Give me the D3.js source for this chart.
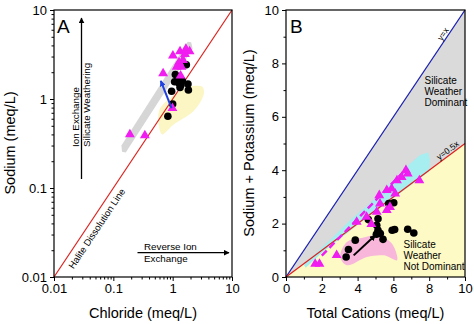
<!DOCTYPE html>
<html>
<head>
<meta charset="utf-8">
<script src="https://cdn.jsdelivr.net/npm/d3@7"></script>
<style>
  body { margin: 0; background: #fff; }
  text { font-family: "Liberation Sans", Arial, sans-serif; }
</style>
</head>
<body>
<div id="chart"></div>
<script>
// ---- Panel A data (log-log, meq/L) ----
const aCircleCl = [0.83, 1.0, 0.96, 1.11, 1.08, 1.28, 1.45, 1.38, 1.70, 1.81, 1.84, 1.33, 1.2];
const aCircleNa = [0.64, 0.88, 1.22, 1.88, 1.56, 1.5, 1.6, 1.44, 2.43, 1.47, 1.26, 1.35, 1.62];
const aTriCl = [0.19, 0.34, 0.69, 0.99, 1.01, 1.33, 1.67, 1.93, 1.49, 1.28, 1.41, 1.17, 1.36, 1.61];
const aTriNa = [0.40, 0.39, 1.94, 0.79, 3.07, 3.43, 3.65, 3.43, 2.74, 2.58, 2.3, 2.3, 1.83, 3.2];
const aGrayBand = [[0.137, 0.30], [1.79, 4.4], [2.05, 4.35], [2.17, 3.67], [0.162, 0.25], [0.14, 0.255]];
const aYellowBlob = [[0.61, 0.44], [0.59, 0.74], [0.81, 0.96], [1.76, 1.35], [3.15, 1.37], [3.35, 1.14],
                     [2.28, 0.74], [1.05, 0.52], [0.67, 0.40]];
const aArrow = [[0.96, 0.79], [0.63, 1.6]];
const aTicks = [0.01, 0.1, 1, 10];
const aTickLabels = ["0.01", "0.1", "1", "10"];

// ---- Panel B data (linear, meq/L) ----
const bCircleTz = [3.36, 3.49, 3.87, 4.6, 5.14, 5.07, 5.14, 5.27, 5.05, 5.42, 5.74, 6.02, 5.93, 6.07, 6.8, 7.14];
const bCircleNaK = [0.75, 1.03, 1.38, 2.15, 2.18, 1.94, 1.75, 1.63, 1.6, 1.41, 2.75, 2.78, 1.75, 1.78, 1.79, 1.65];
const bTriTz = [1.63, 1.87, 2.83, 3.95, 4.5, 5.07, 5.63, 5.25, 5.81, 5.21, 5.63, 5.9, 6.1, 6.2, 6.7, 6.46, 6.8, 7.45, 4.77];
const bTriNaK = [0.49, 0.49, 0.82, 2.06, 2.25, 2.44, 2.5, 2.75, 2.62, 3.06, 3.25, 3.31, 3.12, 3.62, 4.0, 3.74, 3.87, 3.62, 1.98];
const bCyanBand = [[1.0, 0.45], [1.15, 0.57], [2.46, 1.39], [3.58, 2.13], [4.69, 2.76], [5.81, 3.51], [6.74, 4.13],
                   [7.49, 4.57], [7.95, 4.66], [8.04, 4.38], [8.0, 3.95], [6.0, 2.95], [4.0, 1.95], [2.0, 0.9], [1.1, 0.35]];
const bPinkBlob = [[3.03, 0.75], [3.4, 1.31], [4.34, 1.48], [5.08, 1.56], [5.83, 1.31], [6.11, 1.0], [6.2, 0.63],
                   [5.46, 0.81], [4.52, 0.75], [3.4, 0.44]];
const bDashLine = [[2.0, 0.8], [6.65, 4.0]];
const bArrow = [[3.78, 0.81], [4.99, 1.56]];
const bTicks = [0, 2, 4, 6, 8, 10];
const bMinorTicks = [1, 3, 5, 7, 9];

const W = 474, H = 324;
const magenta = "#f01cf0";

const svg = d3.select("#chart").append("svg")
  .attr("width", W)
  .attr("height", H);

const defs = svg.append("defs");
function arrowMarker(id, color) {
  defs.append("marker")
    .attr("id", id)
    .attr("viewBox", "0 0 10 10")
    .attr("refX", 9).attr("refY", 5)
    .attr("markerWidth", 6).attr("markerHeight", 6)
    .attr("markerUnits", "userSpaceOnUse")
    .attr("orient", "auto")
    .append("path")
    .attr("d", "M0,0L10,5L0,10Z")
    .attr("fill", color);
}
arrowMarker("ahBlack", "#000");
arrowMarker("ahBlue", "#1f3fe0");

const tri = d3.symbol().type(d3.symbolTriangle).size(42);

function frame(x0, x1, y0, y1) {
  svg.append("rect")
    .attr("x", x0).attr("y", y1)
    .attr("width", x1 - x0).attr("height", y0 - y1)
    .attr("fill", "none")
    .attr("stroke", "#000")
    .attr("stroke-width", 1.2);
}

// ================= Panel A =================
const xA = d3.scaleLog().domain([0.01, 10]).range([54, 232]);
const yA = d3.scaleLog().domain([0.01, 10]).range([277, 10]);
const lineA = d3.line().x(d => xA(d[0])).y(d => yA(d[1]));

svg.append("path").datum(aYellowBlob)
  .attr("d", d3.line().x(d => xA(d[0])).y(d => yA(d[1])).curve(d3.curveCatmullRomClosed))
  .attr("fill", "#fbf6c4");
svg.append("path").datum(aGrayBand)
  .attr("d", d => lineA(d) + "Z")
  .attr("fill", "#d6d6d6");

// halite dissolution line 1:1
svg.append("line")
  .attr("x1", xA(0.01)).attr("y1", yA(0.01))
  .attr("x2", xA(10)).attr("y2", yA(10))
  .attr("stroke", "#e0201c").attr("stroke-width", 1.2);

const angA = Math.atan2(yA(10) - yA(0.01), xA(10) - xA(0.01)) * 180 / Math.PI;
svg.append("text")
  .attr("transform", `translate(${xA(0.0397)},${yA(0.0397)}) rotate(${angA})`)
  .attr("y", 12)
  .attr("text-anchor", "middle")
  .style("font-size", "9.5px")
  .text("Halite Dissolution Line");

// points
svg.append("g").selectAll("circle")
  .data(aCircleCl.map((c, i) => [c, aCircleNa[i]]))
  .join("circle")
  .attr("cx", d => xA(d[0])).attr("cy", d => yA(d[1]))
  .attr("r", 3.8).attr("fill", "#000");
svg.append("g").selectAll("path")
  .data(aTriCl.map((c, i) => [c, aTriNa[i]]))
  .join("path")
  .attr("transform", d => `translate(${xA(d[0])},${yA(d[1])})`)
  .attr("d", tri).attr("fill", magenta);

svg.append("line")
  .attr("x1", xA(aArrow[0][0])).attr("y1", yA(aArrow[0][1]))
  .attr("x2", xA(aArrow[1][0])).attr("y2", yA(aArrow[1][1]))
  .attr("stroke", "#1f3fe0").attr("stroke-width", 2)
  .attr("marker-end", "url(#ahBlue)");

// axes A
const minorLog = [];
[0.01, 0.1, 1].forEach(p => { for (let k = 2; k <= 9; k++) minorLog.push(p * k); });

svg.append("g").attr("transform", "translate(0,277)")
  .call(d3.axisBottom(xA).tickValues(aTicks).tickFormat((d, i) => aTickLabels[i]).tickSize(4).tickPadding(3))
  .call(g => g.select(".domain").remove());
svg.append("g").attr("transform", "translate(0,277)")
  .call(d3.axisBottom(xA).tickValues(minorLog).tickFormat("").tickSize(2.5))
  .call(g => g.select(".domain").remove());
svg.append("g").attr("transform", "translate(54,0)")
  .call(d3.axisLeft(yA).tickValues(aTicks).tickFormat((d, i) => aTickLabels[i]).tickSize(4).tickPadding(3))
  .call(g => g.select(".domain").remove());
svg.append("g").attr("transform", "translate(54,0)")
  .call(d3.axisLeft(yA).tickValues(minorLog).tickFormat("").tickSize(2.5))
  .call(g => g.select(".domain").remove());
frame(54, 232, 277, 10);

// annotations A
svg.append("text").attr("x", 57).attr("y", 33).style("font-size", "19px").text("A");

svg.append("line")
  .attr("x1", 81.5).attr("y1", 179).attr("x2", 81.5).attr("y2", 18)
  .attr("stroke", "#000").attr("stroke-width", 1.3)
  .attr("marker-end", "url(#ahBlack)");
svg.append("text")
  .attr("transform", "translate(78.5,147) rotate(-90)")
  .style("font-size", "9.8px").text("Ion Exchange");
svg.append("text")
  .attr("transform", "translate(90,147) rotate(-90)")
  .style("font-size", "9.8px").text("Silicate Weathering");

svg.append("line")
  .attr("x1", 137.5).attr("y1", 252.7).attr("x2", 229).attr("y2", 252.7)
  .attr("stroke", "#000").attr("stroke-width", 1.3)
  .attr("marker-end", "url(#ahBlack)");
svg.append("text").attr("x", 144).attr("y", 250).style("font-size", "9.8px").text("Reverse Ion");
svg.append("text").attr("x", 144).attr("y", 262).style("font-size", "9.8px").text("Exchange");

svg.append("text")
  .attr("x", 143).attr("y", 318)
  .attr("text-anchor", "middle")
  .style("font-size", "14.5px")
  .text("Chloride (meq/L)");
svg.append("text")
  .attr("transform", "translate(15,143) rotate(-90)")
  .attr("text-anchor", "middle")
  .style("font-size", "14.5px")
  .text("Sodium (meq/L)");

// ================= Panel B =================
const xB = d3.scaleLinear().domain([0, 10]).range([286, 465]);
const yB = d3.scaleLinear().domain([0, 10]).range([277, 10]);
const lineB = d3.line().x(d => xB(d[0])).y(d => yB(d[1]));

svg.append("path").datum([[0, 0], [10, 5], [10, 0]])
  .attr("d", d => lineB(d) + "Z").attr("fill", "#fdfac6");
svg.append("path").datum([[0, 0], [10, 10], [10, 5]])
  .attr("d", d => lineB(d) + "Z").attr("fill", "#dadada");
svg.append("path").datum(bCyanBand)
  .attr("d", d => lineB(d) + "Z")
  .attr("fill", "#a6eef0");
svg.append("path").datum(bPinkBlob)
  .attr("d", d3.line().x(d => xB(d[0])).y(d => yB(d[1])).curve(d3.curveCatmullRomClosed))
  .attr("fill", "#f7b6da");

svg.append("line")
  .attr("x1", xB(0)).attr("y1", yB(0)).attr("x2", xB(10)).attr("y2", yB(10))
  .attr("stroke", "#1a1fb0").attr("stroke-width", 1.3);
svg.append("line")
  .attr("x1", xB(0)).attr("y1", yB(0)).attr("x2", xB(10)).attr("y2", yB(5))
  .attr("stroke", "#e0201c").attr("stroke-width", 1.2);

svg.append("line")
  .attr("x1", xB(bDashLine[0][0])).attr("y1", yB(bDashLine[0][1]))
  .attr("x2", xB(bDashLine[1][0])).attr("y2", yB(bDashLine[1][1]))
  .attr("stroke", magenta).attr("stroke-width", 2.5)
  .attr("stroke-dasharray", "7,4");

svg.append("g").selectAll("circle")
  .data(bCircleTz.map((c, i) => [c, bCircleNaK[i]]))
  .join("circle")
  .attr("cx", d => xB(d[0])).attr("cy", d => yB(d[1]))
  .attr("r", 3.8).attr("fill", "#000");
svg.append("g").selectAll("path")
  .data(bTriTz.map((c, i) => [c, bTriNaK[i]]))
  .join("path")
  .attr("transform", d => `translate(${xB(d[0])},${yB(d[1])})`)
  .attr("d", tri).attr("fill", magenta);

svg.append("line")
  .attr("x1", xB(bArrow[0][0])).attr("y1", yB(bArrow[0][1]))
  .attr("x2", xB(bArrow[1][0])).attr("y2", yB(bArrow[1][1]))
  .attr("stroke", "#000").attr("stroke-width", 2)
  .attr("marker-end", "url(#ahBlack)");

// axes B
svg.append("g").attr("transform", "translate(0,277)")
  .call(d3.axisBottom(xB).tickValues(bTicks).tickSize(4).tickPadding(3))
  .call(g => g.select(".domain").remove());
svg.append("g").attr("transform", "translate(0,277)")
  .call(d3.axisBottom(xB).tickValues(bMinorTicks).tickFormat("").tickSize(2.5))
  .call(g => g.select(".domain").remove());
svg.append("g").attr("transform", "translate(286,0)")
  .call(d3.axisLeft(yB).tickValues(bTicks).tickSize(4).tickPadding(3))
  .call(g => g.select(".domain").remove());
svg.append("g").attr("transform", "translate(286,0)")
  .call(d3.axisLeft(yB).tickValues(bMinorTicks).tickFormat("").tickSize(2.5))
  .call(g => g.select(".domain").remove());
frame(286, 465, 277, 10);

// annotations B
svg.append("text").attr("x", 290).attr("y", 33).style("font-size", "19px").text("B");

const ang1 = Math.atan2(yB(10) - yB(0), xB(10) - xB(0)) * 180 / Math.PI;
const ang2 = Math.atan2(yB(5) - yB(0), xB(10) - xB(0)) * 180 / Math.PI;
svg.append("text")
  .attr("transform", `translate(${xB(9.0)},${yB(9.0)}) rotate(${ang1})`)
  .attr("y", -2).attr("text-anchor", "middle")
  .style("font-size", "8.5px").text("y=x");
svg.append("text")
  .attr("transform", `translate(${xB(9.2)},${yB(4.6)}) rotate(${ang2})`)
  .attr("y", -2).attr("text-anchor", "middle")
  .style("font-size", "8.5px").text("y=0.5x");

["Silicate", "Weather", "Dominant"].forEach((t, i) => {
  svg.append("text").attr("x", 424.5).attr("y", 84 + i * 11.2)
    .style("font-size", "10px").text(t);
});
["Silicate", "Weather", "Not Dominant"].forEach((t, i) => {
  svg.append("text").attr("x", 403.5).attr("y", 247.5 + i * 11.4)
    .style("font-size", "10px").text(t);
});

svg.append("text")
  .attr("x", 375.5).attr("y", 318)
  .attr("text-anchor", "middle")
  .style("font-size", "14.5px")
  .text("Total Cations (meq/L)");
svg.append("text")
  .attr("transform", "translate(254,143) rotate(-90)")
  .attr("text-anchor", "middle")
  .style("font-size", "14.5px")
  .text("Sodium + Potassium (meq/L)");

svg.selectAll(".tick text").style("font-size", "13px").attr("fill", "#000");
svg.selectAll(".tick line").attr("stroke", "#000");
</script>
</body>
</html>
